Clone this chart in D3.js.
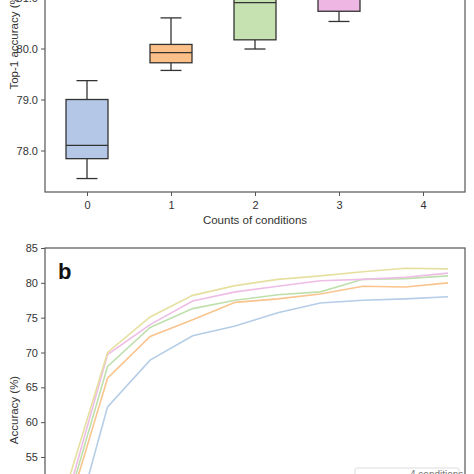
<!DOCTYPE html><html><head><meta charset="utf-8">
<script src="https://cdn.jsdelivr.net/npm/d3@7"></script>
<style>body{margin:0;background:#fff}svg{display:block;font-family:"Liberation Sans",Arial,sans-serif}</style></head><body>
<svg id="c" width="474" height="474"></svg>
<script>
const boxCats=[0,1,2,3];
const boxWLo=[77.45,79.57,79.99,80.53];
const boxQ1=[77.84,79.72,80.17,80.73];
const boxMed=[78.1,79.92,80.9,81.1];
const boxQ3=[79.0,80.08,81.6,81.35];
const boxWHi=[79.37,80.6,81.9,81.7];
const boxFill=["#b4c7e7","#fbbf87","#c6e2b1","#eeb6e2"];
const xTicksTop=[0,1,2,3,4];
const yTicksTop=[78,79,80,81];

const epochs=[0,1,2,3,4,5,6,7,8,9];
const series=[
 {name:"0 conditions",color:"#b5cde6",v:[40,62.2,68.9,72.4,73.8,75.7,77.1,77.5,77.7,78.0]},
 {name:"1 condition",color:"#f9c48e",v:[46,66.3,72.3,74.7,77.2,77.7,78.4,79.5,79.4,80.0]},
 {name:"2 conditions",color:"#bfe0ad",v:[47,68.0,73.6,76.3,77.5,78.3,78.7,80.5,80.6,81.0]},
 {name:"3 conditions",color:"#eebde6",v:[48,69.7,74.0,77.4,78.7,79.5,80.3,80.5,80.8,81.4]},
 {name:"4 conditions",color:"#e6e0a0",v:[50,70.0,75.1,78.2,79.6,80.5,81.0,81.6,82.1,82.0]}
];
const yTicksBot=[55,60,65,70,75,80,85];

const svg=d3.select("#c");
const L=45,R=465;
const xt=d3.scaleLinear().domain([-0.5,4.5]).range([L,R]);
const yt=d3.scaleLinear().domain([78,80]).range([150.5,48.5]);
const gTop=svg.append("g");
gTop.append("rect").attr("x",L).attr("y",-20).attr("width",R-L).attr("height",212).attr("fill","none").attr("stroke","#555").attr("stroke-width",1.2);
gTop.append("g").attr("transform","translate(0,192)").call(d3.axisBottom(xt).tickValues(xTicksTop).tickSize(4).tickFormat(d3.format("d")))
 .call(g=>{g.select(".domain").remove();g.selectAll("line").attr("stroke","#555");g.selectAll("text").attr("font-size",11).attr("fill","#333").attr("dy","0.9em");});
gTop.append("g").attr("transform",`translate(${L},0)`).call(d3.axisLeft(yt).tickValues(yTicksTop).tickSize(4))
 .call(g=>{g.select(".domain").remove();g.selectAll("line").attr("stroke","#555");g.selectAll("text").attr("font-size",11).attr("fill","#333");});
const bw=42;
boxCats.forEach((c,i)=>{
 const g=gTop.append("g").attr("stroke","#333").attr("stroke-width",1.3);
 const x=xt(c);
 g.append("line").attr("x1",x).attr("x2",x).attr("y1",yt(boxWLo[i])).attr("y2",yt(boxQ1[i]));
 g.append("line").attr("x1",x).attr("x2",x).attr("y1",yt(boxWHi[i])).attr("y2",yt(boxQ3[i]));
 g.append("line").attr("x1",x-bw/4).attr("x2",x+bw/4).attr("y1",yt(boxWLo[i])).attr("y2",yt(boxWLo[i]));
 g.append("line").attr("x1",x-bw/4).attr("x2",x+bw/4).attr("y1",yt(boxWHi[i])).attr("y2",yt(boxWHi[i]));
 g.append("rect").attr("x",x-bw/2).attr("width",bw).attr("y",yt(boxQ3[i])).attr("height",yt(boxQ1[i])-yt(boxQ3[i])).attr("fill",boxFill[i]);
 g.append("line").attr("x1",x-bw/2).attr("x2",x+bw/2).attr("y1",yt(boxMed[i])).attr("y2",yt(boxMed[i]));
});
gTop.append("text").attr("x",(L+R)/2).attr("y",224).attr("text-anchor","middle").attr("font-size",11.5).attr("fill","#333").text("Counts of conditions");
gTop.append("text").attr("transform","translate(18,40) rotate(-90)").attr("text-anchor","middle").attr("font-size",11.5).attr("fill","#333").text("Top-1 accuracy (%)");

const xb=d3.scaleLinear().domain([0,9]).range([65,448]);
const yb=d3.scaleLinear().domain([55,85]).range([457,248]);
const bot=svg.append("g");
bot.append("defs").append("clipPath").attr("id","cp").append("rect").attr("x",L).attr("y",248).attr("width",R-L).attr("height",300);
bot.append("rect").attr("x",L).attr("y",248).attr("width",R-L).attr("height",300).attr("fill","none").attr("stroke","#555").attr("stroke-width",1.2);
bot.append("g").attr("transform",`translate(${L},0)`).call(d3.axisLeft(yb).tickValues(yTicksBot).tickSize(4))
 .call(g=>{g.select(".domain").remove();g.selectAll("line").attr("stroke","#555");g.selectAll("text").attr("font-size",11).attr("fill","#333");});
const line=d3.line().x((d,i)=>xb(epochs[i])).y(d=>yb(d));
bot.append("g").attr("clip-path","url(#cp)").selectAll("path").data(series).join("path")
 .attr("d",d=>line(d.v)).attr("fill","none").attr("stroke",d=>d.color).attr("stroke-width",1.6);
bot.append("text").attr("x",58).attr("y",279).attr("font-size",22).attr("font-weight","bold").attr("fill","#111").text("b");
bot.append("text").attr("transform","translate(18,410) rotate(-90)").attr("text-anchor","middle").attr("font-size",11.5).attr("fill","#333").text("Accuracy (%)");
const lg=bot.append("g");
lg.append("rect").attr("x",355).attr("y",468).attr("width",104).attr("height",40).attr("rx",2).attr("fill","#fff").attr("stroke","#ddd");
lg.append("text").attr("x",410).attr("y",478).attr("font-size",10).attr("fill","#777").text(series[4].name);
</script></body></html>
